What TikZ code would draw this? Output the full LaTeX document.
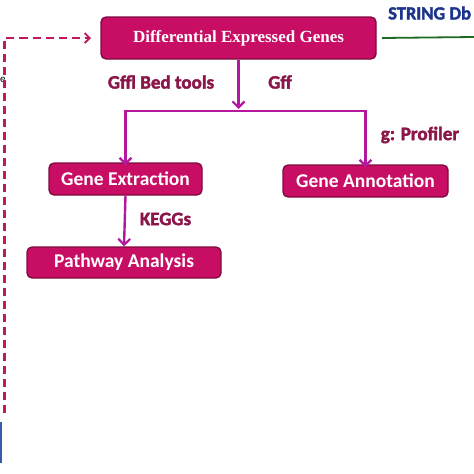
\documentclass[tikz,border=0pt]{standalone}
\usepackage{fontspec}
\setmainfont{Liberation Serif}
\newfontfamily\calib{Carlito}
\newfontfamily\calibh{Carlito}[UprightFont={* Bold}, UprightFeatures={FakeBold=2}]
\usetikzlibrary{arrows.meta}
\definecolor{boxfill}{RGB}{200,14,100}
\definecolor{boxedge}{RGB}{125,10,60}
\definecolor{arrowc}{RGB}{180,24,158}
\definecolor{labelc}{RGB}{138,22,74}
\definecolor{dashc}{RGB}{192,24,96}
\definecolor{navyc}{RGB}{28,52,140}
\definecolor{greenc}{RGB}{30,105,35}
\definecolor{bluebar}{RGB}{60,90,170}
\tikzset{
  procbox/.style={draw=boxedge, line width=1.3pt, fill=boxfill, rounded corners=5pt, text=white, inner sep=0pt},
  flowline/.style={draw=arrowc, line width=2.4pt},
  flowarrow/.style={flowline, -{Straight Barb[length=6pt,width=12pt,line width=2.2pt]}},
  lbl/.style={text=labelc, font=\calibh\fontsize{19}{20}\selectfont, inner sep=0pt},
  boxtext/.style={font=\calib\bfseries\fontsize{19.5}{21}\selectfont},
}
\begin{document}
\begin{tikzpicture}[x=1pt,y=-1pt]
\useasboundingbox (0,0) rectangle (474,474);
% nodes
\node[procbox, minimum width=275pt, minimum height=42pt, font=\bfseries\fontsize{17}{19}\selectfont] (deg) at (238.5,38) {Differential Expressed Genes};
\node[procbox, boxtext, minimum width=153pt, minimum height=32pt] (ge) at (125.5,179) {Gene Extraction};
\node[procbox, boxtext, minimum width=165pt, minimum height=32pt] (ga) at (365.5,181) {Gene Annotation};
\node[procbox, boxtext, minimum width=194pt, minimum height=31pt] (pa) at (124,262.5) {Pathway Analysis};
% labels
\node[lbl] (l1) at (161,82) {Gffl Bed tools};
\node[lbl] (l2) at (280,82) {Gff};
\node[lbl] (l3) at (420,135) {g: Profiler};
\node[lbl] (l4) at (165.5,219) {KEGGs};
\node[text=navyc, font=\calibh\fontsize{18.5}{20}\selectfont, anchor=west, inner sep=0pt] (str) at (388,13) {STRING Db};
\node[text=black, font=\calib\fontsize{11}{12}\selectfont, anchor=west, inner sep=0pt] (cut) at (0,80) {e};
% connectors
\coordinate (j) at (deg.south |- 0,111);
\coordinate (jl) at (ge.north |- 0,111);
\coordinate (jr) at (ga.north |- 0,111);
\draw[flowarrow] (deg.south) -- ([yshift=2pt]j);
\draw[flowline, line cap=rect] (jl) -- (jr);
\draw[flowarrow] (jl) -- ([yshift=-3pt]ge.north);
\draw[flowarrow] (jr) -- ([yshift=-3pt]ga.north);
\draw[flowarrow] (ge.south) -- (pa.north);
% dashed feedback
\coordinate (dbot) at (4.5,413);
\coordinate (dtop) at (4.5,38);
\coordinate (dend) at (91,38);
\draw[dashc, line width=2.8pt, dash pattern=on 8pt off 5pt, -{Straight Barb[length=5pt,width=10pt,line width=1.8pt]}] (dbot) -- (dtop) -- (dend);
% STRING line
\coordinate (g1) at (382,38);
\coordinate (g2) at (474,37);
\draw[greenc, line width=1.8pt] (g1) -- (g2);
% blue bar
\fill[bluebar] (0,422) rectangle (2.4,463);
\end{tikzpicture}
\end{document}
